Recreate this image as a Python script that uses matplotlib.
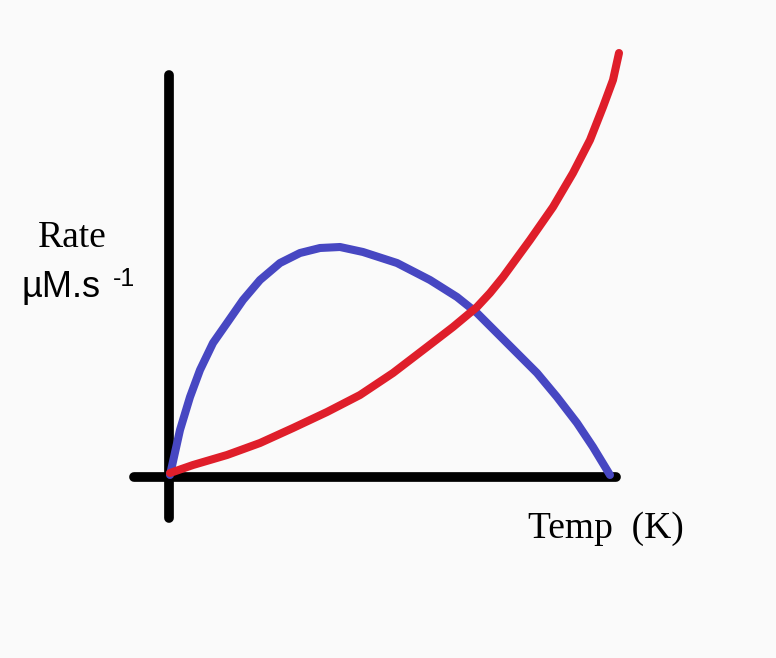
import matplotlib
matplotlib.use("Agg")
import matplotlib.pyplot as plt
import numpy as np

# Data (temperature units, rate units) -- origin at (0, 0)
red_temp = [0, 23, 57, 90, 123, 157, 190, 223, 257, 283, 307, 320, 333, 360, 383, 403, 420, 433, 443, 449]
red_rate = [3, 11, 21, 33, 48, 64, 81, 103, 129, 149, 169, 183, 199, 236, 269, 303, 336, 369, 396, 423]

blue_temp = [0, 10, 20, 30, 43, 57, 73, 90, 110, 130, 150, 170, 193, 227, 260, 287, 307, 327, 347, 367, 387, 407, 423, 440]
blue_rate = [1, 46, 79, 106, 133, 153, 176, 196, 213, 223, 228, 229, 224, 213, 196, 179, 163, 143, 123, 103, 79, 53, 29, 1]

fig = plt.figure(figsize=(7.76, 6.58), dpi=100, facecolor="#fafafa")
ax = fig.add_axes([0, 0, 1, 1])
ax.set_facecolor("#fafafa")
ax.set_xlim(-170, 606)
ax.set_ylim(-182, 476)
ax.axis("off")

# hand-drawn axes
ax.plot([-1, -1], [-42, 401], color="black", lw=7, solid_capstyle="round")
ax.plot([-36, 446], [-1, -1], color="black", lw=7, solid_capstyle="round")

ax.plot(blue_temp, blue_rate, color="#4747c2", lw=5.8,
        solid_capstyle="round", solid_joinstyle="round")
ax.plot(red_temp, red_rate, color="#df1e2a", lw=5.8,
        solid_capstyle="round", solid_joinstyle="round")

ax.text(-132, 229, "Rate", fontsize=27, family="Liberation Serif", ha="left", va="baseline")
ax.text(-148, 179, "µM.s", fontsize=26, family="Liberation Sans", ha="left", va="baseline")
ax.text(-57, 190, "-1", fontsize=18, family="Liberation Sans", ha="left", va="baseline")
ax.text(358, -62, "Temp  (K)", fontsize=27, family="Liberation Serif", ha="left", va="baseline")

fig.savefig("out.png", dpi=100, facecolor=fig.get_facecolor())
